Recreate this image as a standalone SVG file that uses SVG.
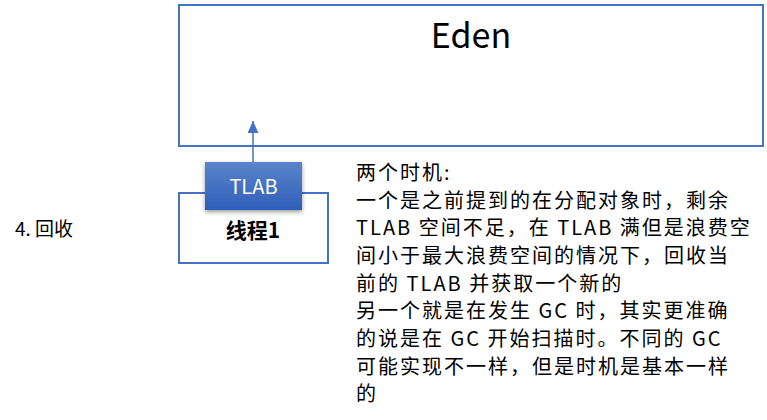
<svg xmlns="http://www.w3.org/2000/svg" width="767" height="420" viewBox="0 0 767 420">
<defs>
<linearGradient id="g" x1="0" y1="0" x2="0" y2="1"><stop offset="0" stop-color="#5b84cc"/><stop offset="1" stop-color="#2f5fb8"/></linearGradient>
<filter id="sh" x="-20%" y="-20%" width="140%" height="150%"><feDropShadow dx="0" dy="2" stdDeviation="2" flood-opacity="0.4"/></filter>
<marker id="ar" markerWidth="12" markerHeight="11" refX="12" refY="5.5" orient="auto" markerUnits="userSpaceOnUse" viewBox="0 0 12 11"><path d="M0,0 L12,5.5 L0,11 Z" fill="#4472c4"/></marker>
<style>text{font-family:"Noto Sans CJK SC","Noto Sans",sans-serif;}.b{fill:none;stroke:#4472c4;stroke-width:2}.t{font-size:20px;letter-spacing:2px;fill:#000}</style>
</defs>
<rect width="767" height="420" fill="#fff"/>
<g id="eden"><rect class="b" x="179" y="5" width="584" height="141"/><text x="471" y="48" font-size="34" text-anchor="middle">Eden</text></g>
<g id="thread"><rect class="b" x="179" y="193" width="149" height="70"/><text x="253" y="238" font-size="21" font-weight="bold" text-anchor="middle">线程1</text></g>
<g id="connectors"><line x1="253" y1="162" x2="253" y2="121" stroke="#4472c4" stroke-width="1.5" marker-end="url(#ar)"/></g>
<g id="tlab"><rect x="205" y="162" width="97" height="48" fill="url(#g)" filter="url(#sh)"/><text x="253.5" y="194" font-size="20" fill="#fff" text-anchor="middle">TLAB</text></g>
<g id="label4"><text x="15" y="236" font-size="19">4. 回收</text></g>
<g id="note">
<text x="356" y="180" class="t">两个时机:</text>
<text x="356" y="208" class="t">一个是之前提到的在分配对象时，剩余</text>
<text x="356" y="235" class="t">TLAB 空间不足，在 TLAB 满但是浪费空</text>
<text x="356" y="263" class="t">间小于最大浪费空间的情况下，回收当</text>
<text x="356" y="291" class="t">前的 TLAB 并获取一个新的</text>
<text x="356" y="318" class="t">另一个就是在发生 GC 时，其实更准确</text>
<text x="356" y="346" class="t">的说是在 GC 开始扫描时。不同的 GC</text>
<text x="356" y="374" class="t">可能实现不一样，但是时机是基本一样</text>
<text x="356" y="401" class="t">的</text>
</g>
</svg>
